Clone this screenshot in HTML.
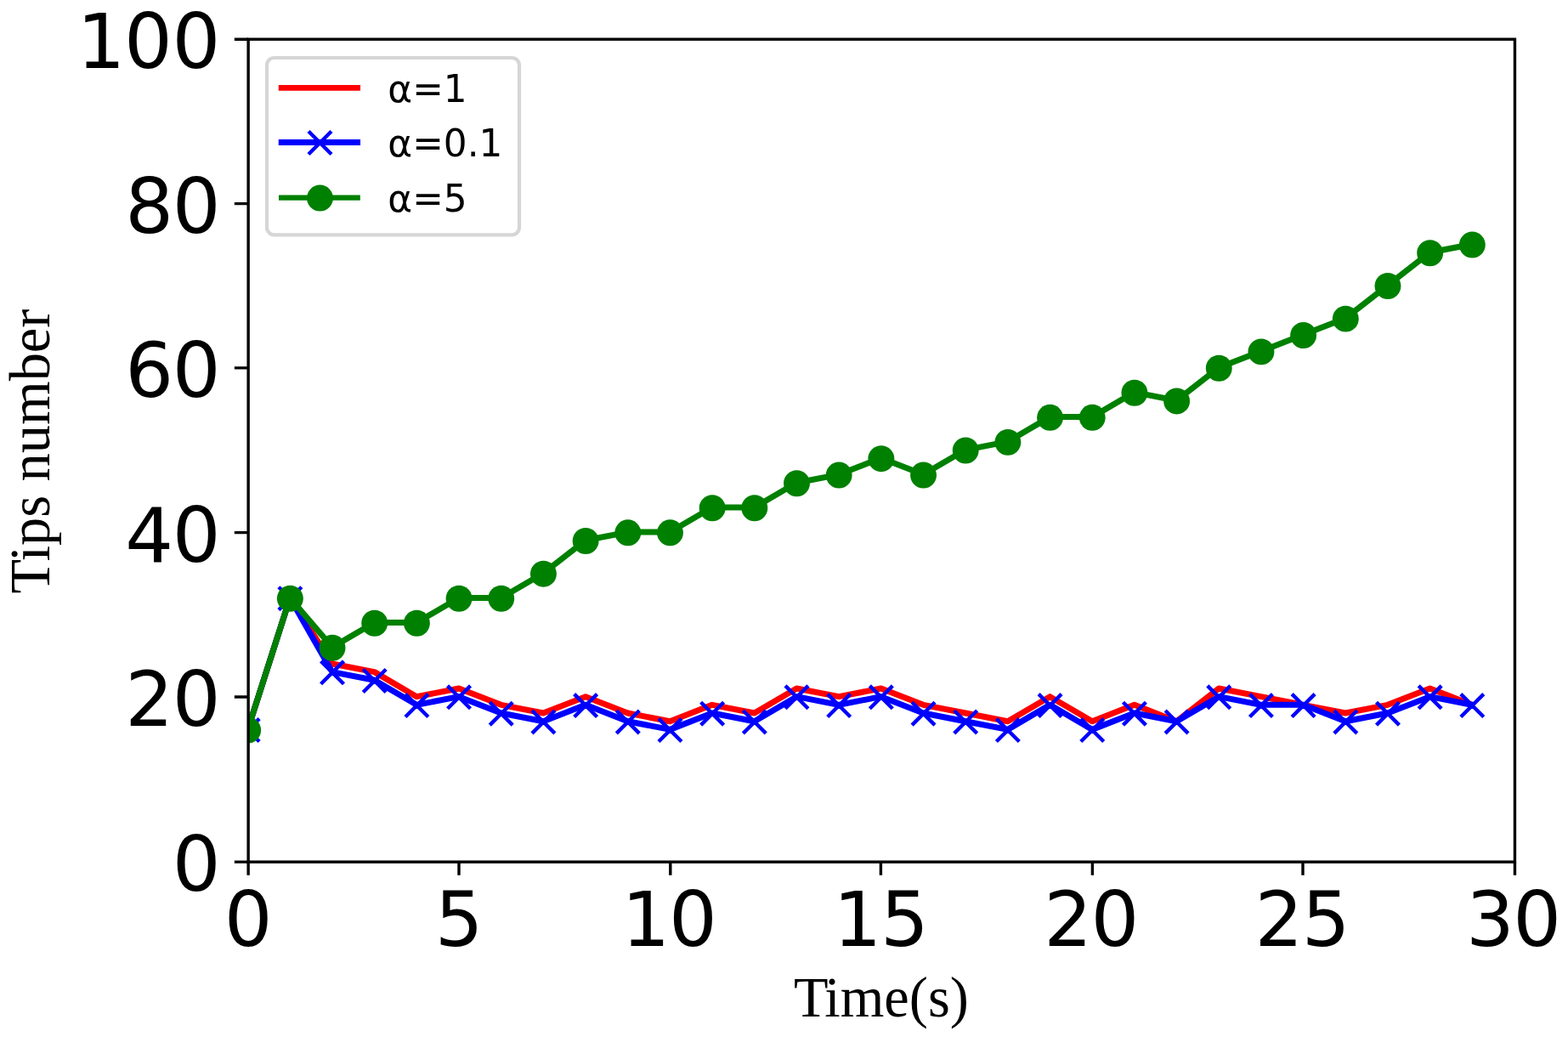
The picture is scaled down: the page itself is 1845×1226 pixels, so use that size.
<!DOCTYPE html>
<html lang="en"><head><meta charset="utf-8"><title>Tips number over time</title>
<style>html,body{margin:0;padding:0;background:#fff}body{width:1845px;height:1226px;overflow:hidden}svg{display:block}.t{font-family:"DejaVu Sans","Liberation Sans",sans-serif;font-size:89.4px;fill:#000}.l{font-family:"DejaVu Sans","Liberation Sans",sans-serif;font-size:43.75px;fill:#000}.a{font-family:"Liberation Serif","Times New Roman",serif;font-size:66.4px;fill:#000}</style></head><body>
<svg width="1845" height="1226" viewBox="0 0 1845 1226">
<rect width="1845" height="1226" fill="#fff"/>
<defs><clipPath id="ax"><rect x="291.55" y="45.42" width="1490.31" height="967.8"/></clipPath></defs>
<g clip-path="url(#ax)" fill="none" stroke-linejoin="round">
<polyline points="291.55,858.37 341.23,703.52 390.9,780.95 440.58,790.63 490.26,819.66 539.93,809.98 589.61,829.34 639.29,839.02 688.97,819.66 738.64,839.02 788.32,848.69 838,829.34 887.67,839.02 937.35,809.98 987.03,819.66 1036.7,809.98 1086.38,829.34 1136.06,839.02 1185.74,848.69 1235.41,819.66 1285.09,848.69 1334.77,829.34 1384.44,848.69 1434.12,809.98 1483.8,819.66 1533.47,829.34 1583.15,839.02 1632.83,829.34 1682.51,809.98 1732.18,829.34" stroke="#f00" stroke-width="7" stroke-linecap="square"/>
<polyline points="291.55,858.37 341.23,703.52 390.9,790.63 440.58,800.3 490.26,829.34 539.93,819.66 589.61,839.02 639.29,848.69 688.97,829.34 738.64,848.69 788.32,858.37 838,839.02 887.67,848.69 937.35,819.66 987.03,829.34 1036.7,819.66 1086.38,839.02 1136.06,848.69 1185.74,858.37 1235.41,829.34 1285.09,858.37 1334.77,839.02 1384.44,848.69 1434.12,819.66 1483.8,829.34 1533.47,829.34 1583.15,848.69 1632.83,839.02 1682.51,819.66 1732.18,829.34" stroke="#00f" stroke-width="7" stroke-linecap="square"/>
<path d="M278.25 845.62L305.15 872.52M278.25 872.52L305.15 845.62M327.93 690.77L354.83 717.67M327.93 717.67L354.83 690.77M377.6 777.88L404.5 804.78M377.6 804.78L404.5 777.88M427.28 787.55L454.18 814.45M427.28 814.45L454.18 787.55M476.96 816.59L503.86 843.49M476.96 843.49L503.86 816.59M526.63 806.91L553.53 833.81M526.63 833.81L553.53 806.91M576.31 826.27L603.21 853.17M576.31 853.17L603.21 826.27M625.99 835.94L652.89 862.84M625.99 862.84L652.89 835.94M675.67 816.59L702.57 843.49M675.67 843.49L702.57 816.59M725.34 835.94L752.24 862.84M725.34 862.84L752.24 835.94M775.02 845.62L801.92 872.52M775.02 872.52L801.92 845.62M824.7 826.27L851.6 853.17M824.7 853.17L851.6 826.27M874.37 835.94L901.27 862.84M874.37 862.84L901.27 835.94M924.05 806.91L950.95 833.81M924.05 833.81L950.95 806.91M973.73 816.59L1000.63 843.49M973.73 843.49L1000.63 816.59M1023.4 806.91L1050.31 833.81M1023.4 833.81L1050.31 806.91M1073.08 826.27L1099.98 853.17M1073.08 853.17L1099.98 826.27M1122.76 835.94L1149.66 862.84M1122.76 862.84L1149.66 835.94M1172.44 845.62L1199.34 872.52M1172.44 872.52L1199.34 845.62M1222.11 816.59L1249.01 843.49M1222.11 843.49L1249.01 816.59M1271.79 845.62L1298.69 872.52M1271.79 872.52L1298.69 845.62M1321.47 826.27L1348.37 853.17M1321.47 853.17L1348.37 826.27M1371.14 835.94L1398.04 862.84M1371.14 862.84L1398.04 835.94M1420.82 806.91L1447.72 833.81M1420.82 833.81L1447.72 806.91M1470.5 816.59L1497.4 843.49M1470.5 843.49L1497.4 816.59M1520.17 816.59L1547.08 843.49M1520.17 843.49L1547.08 816.59M1569.85 835.94L1596.75 862.84M1569.85 862.84L1596.75 835.94M1619.53 826.27L1646.43 853.17M1619.53 853.17L1646.43 826.27M1669.21 806.91L1696.11 833.81M1669.21 833.81L1696.11 806.91M1718.88 816.59L1745.78 843.49M1718.88 843.49L1745.78 816.59" stroke="#00f" stroke-width="4.4" stroke-linecap="butt"/>
<polyline points="291.55,858.37 341.23,703.52 390.9,761.59 440.58,732.56 490.26,732.56 539.93,703.52 589.61,703.52 639.29,674.49 688.97,635.78 738.64,626.1 788.32,626.1 838,597.07 887.67,597.07 937.35,568.03 987.03,558.35 1036.7,539 1086.38,558.35 1136.06,529.32 1185.74,519.64 1235.41,490.61 1285.09,490.61 1334.77,461.57 1384.44,471.25 1434.12,432.54 1483.8,413.18 1533.47,393.83 1583.15,374.47 1632.83,335.76 1682.51,297.05 1732.18,287.37" stroke="#008000" stroke-width="7" stroke-linecap="square"/>
<g fill="#008000" stroke="none"><circle cx="291.7" cy="859.07" r="15.45"/><circle cx="341.38" cy="704.22" r="15.45"/><circle cx="391.05" cy="762.29" r="15.45"/><circle cx="440.73" cy="733.26" r="15.45"/><circle cx="490.41" cy="733.26" r="15.45"/><circle cx="540.08" cy="704.22" r="15.45"/><circle cx="589.76" cy="704.22" r="15.45"/><circle cx="639.44" cy="675.19" r="15.45"/><circle cx="689.12" cy="636.48" r="15.45"/><circle cx="738.79" cy="626.8" r="15.45"/><circle cx="788.47" cy="626.8" r="15.45"/><circle cx="838.15" cy="597.77" r="15.45"/><circle cx="887.82" cy="597.77" r="15.45"/><circle cx="937.5" cy="568.73" r="15.45"/><circle cx="987.18" cy="559.05" r="15.45"/><circle cx="1036.86" cy="539.7" r="15.45"/><circle cx="1086.53" cy="559.05" r="15.45"/><circle cx="1136.21" cy="530.02" r="15.45"/><circle cx="1185.89" cy="520.34" r="15.45"/><circle cx="1235.56" cy="491.31" r="15.45"/><circle cx="1285.24" cy="491.31" r="15.45"/><circle cx="1334.92" cy="462.27" r="15.45"/><circle cx="1384.59" cy="471.95" r="15.45"/><circle cx="1434.27" cy="433.24" r="15.45"/><circle cx="1483.95" cy="413.88" r="15.45"/><circle cx="1533.62" cy="394.53" r="15.45"/><circle cx="1583.3" cy="375.17" r="15.45"/><circle cx="1632.98" cy="336.46" r="15.45"/><circle cx="1682.66" cy="297.75" r="15.45"/><circle cx="1732.33" cy="288.07" r="15.45"/></g>
</g>
<path d="M292.15 1014.13V1029.73M540 1014.13V1029.73M788.8 1014.13V1029.73M1036.4 1014.13V1029.73M1285.4 1014.13V1029.73M1533 1014.13V1029.73M1782.45 1014.13V1029.73M292.15 1014.13H275.85M292.15 819.96H275.85M292.15 626.6H275.85M292.15 432.84H275.85M292.15 239.58H275.85M292.15 46.2H275.85" stroke="#000" stroke-width="3.4" fill="none"/>
<rect x="292.15" y="46.2" width="1490.3" height="967.93" fill="none" stroke="#000" stroke-width="3.4" stroke-linejoin="miter"/>
<text class="t" x="263.71" y="1113.4">0</text>
<text class="t" x="511.7" y="1113.4">5</text>
<text class="t" x="731.59 786.97" y="1113.4">10</text>
<text class="t" x="980.58 1035.95" y="1113.4">15</text>
<text class="t" x="1228.16 1283.54" y="1113.4">20</text>
<text class="t" x="1476.45 1531.82" y="1113.4">25</text>
<text class="t" x="1724.93 1780.31" y="1113.4">30</text>
<text class="t" x="202.72" y="1047.82">0</text>
<text class="t" x="147.34 202.72" y="854.26">20</text>
<text class="t" x="147.34 202.72" y="660.7">40</text>
<text class="t" x="147.34 202.72" y="467.14">60</text>
<text class="t" x="147.34 202.72" y="273.58">80</text>
<text class="t" x="90.46 146.04 202.62" y="80.02">100</text>
<text class="a" transform="translate(1036.9 1196.4) scale(1 1.03)" text-anchor="middle" dx="0 -2">Time(s)</text>
<text class="a" transform="translate(58.3 531) rotate(-90) scale(1 1.03)" text-anchor="middle" dx="0 -0.3">Tips number</text>
<rect x="314" y="68" width="297" height="208.3" rx="8.75" ry="8.75" fill="#fff" fill-opacity="0.8" stroke="#ccc" stroke-opacity="0.8" stroke-width="4.17"/>
<path d="M331.2 103.4H420.6" stroke="#f00" stroke-width="6.9" stroke-linecap="square" fill="none"/>
<text class="l" x="456.3" y="119.8">α=1</text>
<path d="M331.2 167.55H420.6" stroke="#00f" stroke-width="6.9" stroke-linecap="square" fill="none"/>
<path d="M363.05 154.55L389.95 181.45M363.05 181.45L389.95 154.55" stroke="#00f" stroke-width="4.4" fill="none"/>
<text class="l" x="456.3" y="184.3">α=0.1</text>
<path d="M331.2 232.6H420.6" stroke="#008000" stroke-width="6.45" stroke-linecap="square" fill="none"/>
<circle cx="376.5" cy="233.05" r="15.45" fill="#008000"/>
<text class="l" x="456.3" y="248.8">α=5</text>
</svg></body></html>
